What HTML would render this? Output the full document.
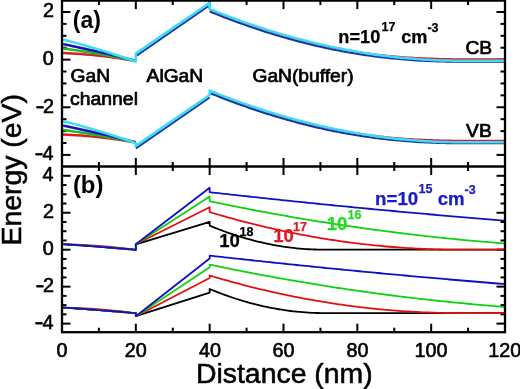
<!DOCTYPE html>
<html><head><meta charset="utf-8"><style>
html,body{margin:0;padding:0;background:#fff;}
svg{display:block;filter:blur(0.35px);}
</style></head><body>
<svg width="520" height="389" viewBox="0 0 520 389">
<rect width="520" height="389" fill="#fff"/>
<line x1="62.00" y1="154.91" x2="70.50" y2="154.91" stroke="#000" stroke-width="2.0"/>
<line x1="505.00" y1="154.91" x2="496.50" y2="154.91" stroke="#000" stroke-width="2.0"/>
<line x1="62.00" y1="143.00" x2="66.50" y2="143.00" stroke="#000" stroke-width="2.0"/>
<line x1="505.00" y1="143.00" x2="500.50" y2="143.00" stroke="#000" stroke-width="2.0"/>
<line x1="62.00" y1="131.09" x2="66.50" y2="131.09" stroke="#000" stroke-width="2.0"/>
<line x1="505.00" y1="131.09" x2="500.50" y2="131.09" stroke="#000" stroke-width="2.0"/>
<line x1="62.00" y1="119.18" x2="66.50" y2="119.18" stroke="#000" stroke-width="2.0"/>
<line x1="505.00" y1="119.18" x2="500.50" y2="119.18" stroke="#000" stroke-width="2.0"/>
<line x1="62.00" y1="107.27" x2="70.50" y2="107.27" stroke="#000" stroke-width="2.0"/>
<line x1="505.00" y1="107.27" x2="496.50" y2="107.27" stroke="#000" stroke-width="2.0"/>
<line x1="62.00" y1="95.36" x2="66.50" y2="95.36" stroke="#000" stroke-width="2.0"/>
<line x1="505.00" y1="95.36" x2="500.50" y2="95.36" stroke="#000" stroke-width="2.0"/>
<line x1="62.00" y1="83.45" x2="66.50" y2="83.45" stroke="#000" stroke-width="2.0"/>
<line x1="505.00" y1="83.45" x2="500.50" y2="83.45" stroke="#000" stroke-width="2.0"/>
<line x1="62.00" y1="71.54" x2="66.50" y2="71.54" stroke="#000" stroke-width="2.0"/>
<line x1="505.00" y1="71.54" x2="500.50" y2="71.54" stroke="#000" stroke-width="2.0"/>
<line x1="62.00" y1="59.63" x2="70.50" y2="59.63" stroke="#000" stroke-width="2.0"/>
<line x1="505.00" y1="59.63" x2="496.50" y2="59.63" stroke="#000" stroke-width="2.0"/>
<line x1="62.00" y1="47.72" x2="66.50" y2="47.72" stroke="#000" stroke-width="2.0"/>
<line x1="505.00" y1="47.72" x2="500.50" y2="47.72" stroke="#000" stroke-width="2.0"/>
<line x1="62.00" y1="35.81" x2="66.50" y2="35.81" stroke="#000" stroke-width="2.0"/>
<line x1="505.00" y1="35.81" x2="500.50" y2="35.81" stroke="#000" stroke-width="2.0"/>
<line x1="62.00" y1="23.90" x2="66.50" y2="23.90" stroke="#000" stroke-width="2.0"/>
<line x1="505.00" y1="23.90" x2="500.50" y2="23.90" stroke="#000" stroke-width="2.0"/>
<line x1="62.00" y1="11.99" x2="70.50" y2="11.99" stroke="#000" stroke-width="2.0"/>
<line x1="505.00" y1="11.99" x2="496.50" y2="11.99" stroke="#000" stroke-width="2.0"/>
<line x1="62.00" y1="323.60" x2="70.50" y2="323.60" stroke="#000" stroke-width="2.0"/>
<line x1="505.00" y1="323.60" x2="496.50" y2="323.60" stroke="#000" stroke-width="2.0"/>
<line x1="62.00" y1="314.36" x2="66.50" y2="314.36" stroke="#000" stroke-width="2.0"/>
<line x1="505.00" y1="314.36" x2="500.50" y2="314.36" stroke="#000" stroke-width="2.0"/>
<line x1="62.00" y1="305.12" x2="66.50" y2="305.12" stroke="#000" stroke-width="2.0"/>
<line x1="505.00" y1="305.12" x2="500.50" y2="305.12" stroke="#000" stroke-width="2.0"/>
<line x1="62.00" y1="295.89" x2="66.50" y2="295.89" stroke="#000" stroke-width="2.0"/>
<line x1="505.00" y1="295.89" x2="500.50" y2="295.89" stroke="#000" stroke-width="2.0"/>
<line x1="62.00" y1="286.65" x2="70.50" y2="286.65" stroke="#000" stroke-width="2.0"/>
<line x1="505.00" y1="286.65" x2="496.50" y2="286.65" stroke="#000" stroke-width="2.0"/>
<line x1="62.00" y1="277.41" x2="66.50" y2="277.41" stroke="#000" stroke-width="2.0"/>
<line x1="505.00" y1="277.41" x2="500.50" y2="277.41" stroke="#000" stroke-width="2.0"/>
<line x1="62.00" y1="268.18" x2="66.50" y2="268.18" stroke="#000" stroke-width="2.0"/>
<line x1="505.00" y1="268.18" x2="500.50" y2="268.18" stroke="#000" stroke-width="2.0"/>
<line x1="62.00" y1="258.94" x2="66.50" y2="258.94" stroke="#000" stroke-width="2.0"/>
<line x1="505.00" y1="258.94" x2="500.50" y2="258.94" stroke="#000" stroke-width="2.0"/>
<line x1="62.00" y1="249.70" x2="70.50" y2="249.70" stroke="#000" stroke-width="2.0"/>
<line x1="505.00" y1="249.70" x2="496.50" y2="249.70" stroke="#000" stroke-width="2.0"/>
<line x1="62.00" y1="240.46" x2="66.50" y2="240.46" stroke="#000" stroke-width="2.0"/>
<line x1="505.00" y1="240.46" x2="500.50" y2="240.46" stroke="#000" stroke-width="2.0"/>
<line x1="62.00" y1="231.22" x2="66.50" y2="231.22" stroke="#000" stroke-width="2.0"/>
<line x1="505.00" y1="231.22" x2="500.50" y2="231.22" stroke="#000" stroke-width="2.0"/>
<line x1="62.00" y1="221.99" x2="66.50" y2="221.99" stroke="#000" stroke-width="2.0"/>
<line x1="505.00" y1="221.99" x2="500.50" y2="221.99" stroke="#000" stroke-width="2.0"/>
<line x1="62.00" y1="212.75" x2="70.50" y2="212.75" stroke="#000" stroke-width="2.0"/>
<line x1="505.00" y1="212.75" x2="496.50" y2="212.75" stroke="#000" stroke-width="2.0"/>
<line x1="62.00" y1="203.51" x2="66.50" y2="203.51" stroke="#000" stroke-width="2.0"/>
<line x1="505.00" y1="203.51" x2="500.50" y2="203.51" stroke="#000" stroke-width="2.0"/>
<line x1="62.00" y1="194.27" x2="66.50" y2="194.27" stroke="#000" stroke-width="2.0"/>
<line x1="505.00" y1="194.27" x2="500.50" y2="194.27" stroke="#000" stroke-width="2.0"/>
<line x1="62.00" y1="185.04" x2="66.50" y2="185.04" stroke="#000" stroke-width="2.0"/>
<line x1="505.00" y1="185.04" x2="500.50" y2="185.04" stroke="#000" stroke-width="2.0"/>
<line x1="62.00" y1="175.80" x2="70.50" y2="175.80" stroke="#000" stroke-width="2.0"/>
<line x1="505.00" y1="175.80" x2="496.50" y2="175.80" stroke="#000" stroke-width="2.0"/>
<line x1="62.00" y1="332.20" x2="62.00" y2="323.70" stroke="#000" stroke-width="2.0"/>
<line x1="62.00" y1="166.50" x2="62.00" y2="158.00" stroke="#000" stroke-width="2.0"/>
<line x1="62.00" y1="166.50" x2="62.00" y2="175.00" stroke="#000" stroke-width="2.0"/>
<line x1="62.00" y1="0.60" x2="62.00" y2="9.10" stroke="#000" stroke-width="2.0"/>
<line x1="98.92" y1="332.20" x2="98.92" y2="327.70" stroke="#000" stroke-width="2.0"/>
<line x1="98.92" y1="166.50" x2="98.92" y2="162.00" stroke="#000" stroke-width="2.0"/>
<line x1="98.92" y1="166.50" x2="98.92" y2="171.00" stroke="#000" stroke-width="2.0"/>
<line x1="98.92" y1="0.60" x2="98.92" y2="5.10" stroke="#000" stroke-width="2.0"/>
<line x1="135.83" y1="332.20" x2="135.83" y2="323.70" stroke="#000" stroke-width="2.0"/>
<line x1="135.83" y1="166.50" x2="135.83" y2="158.00" stroke="#000" stroke-width="2.0"/>
<line x1="135.83" y1="166.50" x2="135.83" y2="175.00" stroke="#000" stroke-width="2.0"/>
<line x1="135.83" y1="0.60" x2="135.83" y2="9.10" stroke="#000" stroke-width="2.0"/>
<line x1="172.75" y1="332.20" x2="172.75" y2="327.70" stroke="#000" stroke-width="2.0"/>
<line x1="172.75" y1="166.50" x2="172.75" y2="162.00" stroke="#000" stroke-width="2.0"/>
<line x1="172.75" y1="166.50" x2="172.75" y2="171.00" stroke="#000" stroke-width="2.0"/>
<line x1="172.75" y1="0.60" x2="172.75" y2="5.10" stroke="#000" stroke-width="2.0"/>
<line x1="209.67" y1="332.20" x2="209.67" y2="323.70" stroke="#000" stroke-width="2.0"/>
<line x1="209.67" y1="166.50" x2="209.67" y2="158.00" stroke="#000" stroke-width="2.0"/>
<line x1="209.67" y1="166.50" x2="209.67" y2="175.00" stroke="#000" stroke-width="2.0"/>
<line x1="209.67" y1="0.60" x2="209.67" y2="9.10" stroke="#000" stroke-width="2.0"/>
<line x1="246.58" y1="332.20" x2="246.58" y2="327.70" stroke="#000" stroke-width="2.0"/>
<line x1="246.58" y1="166.50" x2="246.58" y2="162.00" stroke="#000" stroke-width="2.0"/>
<line x1="246.58" y1="166.50" x2="246.58" y2="171.00" stroke="#000" stroke-width="2.0"/>
<line x1="246.58" y1="0.60" x2="246.58" y2="5.10" stroke="#000" stroke-width="2.0"/>
<line x1="283.50" y1="332.20" x2="283.50" y2="323.70" stroke="#000" stroke-width="2.0"/>
<line x1="283.50" y1="166.50" x2="283.50" y2="158.00" stroke="#000" stroke-width="2.0"/>
<line x1="283.50" y1="166.50" x2="283.50" y2="175.00" stroke="#000" stroke-width="2.0"/>
<line x1="283.50" y1="0.60" x2="283.50" y2="9.10" stroke="#000" stroke-width="2.0"/>
<line x1="320.42" y1="332.20" x2="320.42" y2="327.70" stroke="#000" stroke-width="2.0"/>
<line x1="320.42" y1="166.50" x2="320.42" y2="162.00" stroke="#000" stroke-width="2.0"/>
<line x1="320.42" y1="166.50" x2="320.42" y2="171.00" stroke="#000" stroke-width="2.0"/>
<line x1="320.42" y1="0.60" x2="320.42" y2="5.10" stroke="#000" stroke-width="2.0"/>
<line x1="357.33" y1="332.20" x2="357.33" y2="323.70" stroke="#000" stroke-width="2.0"/>
<line x1="357.33" y1="166.50" x2="357.33" y2="158.00" stroke="#000" stroke-width="2.0"/>
<line x1="357.33" y1="166.50" x2="357.33" y2="175.00" stroke="#000" stroke-width="2.0"/>
<line x1="357.33" y1="0.60" x2="357.33" y2="9.10" stroke="#000" stroke-width="2.0"/>
<line x1="394.25" y1="332.20" x2="394.25" y2="327.70" stroke="#000" stroke-width="2.0"/>
<line x1="394.25" y1="166.50" x2="394.25" y2="162.00" stroke="#000" stroke-width="2.0"/>
<line x1="394.25" y1="166.50" x2="394.25" y2="171.00" stroke="#000" stroke-width="2.0"/>
<line x1="394.25" y1="0.60" x2="394.25" y2="5.10" stroke="#000" stroke-width="2.0"/>
<line x1="431.17" y1="332.20" x2="431.17" y2="323.70" stroke="#000" stroke-width="2.0"/>
<line x1="431.17" y1="166.50" x2="431.17" y2="158.00" stroke="#000" stroke-width="2.0"/>
<line x1="431.17" y1="166.50" x2="431.17" y2="175.00" stroke="#000" stroke-width="2.0"/>
<line x1="431.17" y1="0.60" x2="431.17" y2="9.10" stroke="#000" stroke-width="2.0"/>
<line x1="468.08" y1="332.20" x2="468.08" y2="327.70" stroke="#000" stroke-width="2.0"/>
<line x1="468.08" y1="166.50" x2="468.08" y2="162.00" stroke="#000" stroke-width="2.0"/>
<line x1="468.08" y1="166.50" x2="468.08" y2="171.00" stroke="#000" stroke-width="2.0"/>
<line x1="468.08" y1="0.60" x2="468.08" y2="5.10" stroke="#000" stroke-width="2.0"/>
<line x1="505.00" y1="332.20" x2="505.00" y2="323.70" stroke="#000" stroke-width="2.0"/>
<line x1="505.00" y1="166.50" x2="505.00" y2="158.00" stroke="#000" stroke-width="2.0"/>
<line x1="505.00" y1="166.50" x2="505.00" y2="175.00" stroke="#000" stroke-width="2.0"/>
<line x1="505.00" y1="0.60" x2="505.00" y2="9.10" stroke="#000" stroke-width="2.0"/>
<polyline points="63.00,244.20 67.55,244.50 72.10,244.81 76.66,245.12 81.21,245.44 85.76,245.77 90.31,246.10 94.86,246.44 99.42,246.79 103.97,247.14 108.52,247.50 113.07,247.87 117.62,248.24 122.18,248.62 126.73,249.01 131.28,249.40 135.83,249.80 135.83,244.30 209.67,221.80 209.67,225.60 212.67,226.84 215.67,228.05 218.67,229.22 221.67,230.37 224.67,231.48 227.67,232.55 230.67,233.60 233.67,234.61 236.67,235.59 239.67,236.53 242.67,237.45 245.67,238.33 248.67,239.17 251.67,239.99 254.67,240.77 257.67,241.52 260.67,242.24 263.67,242.92 266.67,243.57 269.67,244.19 272.67,244.77 275.67,245.32 278.67,245.84 281.67,246.33 284.67,246.78 287.67,247.21 290.67,247.59 293.67,247.95 296.67,248.27 299.67,248.56 302.67,248.82 305.67,249.04 308.67,249.23 311.67,249.39 314.67,249.52 317.67,249.61 320.67,249.67 323.67,249.70 326.67,249.70 329.67,249.70 332.67,249.70 335.67,249.70 338.67,249.70 341.67,249.70 344.67,249.70 347.67,249.70 350.67,249.70 353.67,249.70 356.67,249.70 359.67,249.70 362.67,249.70 365.67,249.70 368.67,249.70 371.67,249.70 374.67,249.70 377.67,249.70 380.67,249.70 383.67,249.70 386.67,249.70 389.67,249.70 392.67,249.70 395.67,249.70 398.67,249.70 401.67,249.70 404.67,249.70 407.67,249.70 410.67,249.70 413.67,249.70 416.67,249.70 419.67,249.70 422.67,249.70 425.67,249.70 428.67,249.70 431.67,249.70 434.67,249.70 437.67,249.70 440.67,249.70 443.67,249.70 446.67,249.70 449.67,249.70 452.67,249.70 455.67,249.70 458.67,249.70 461.67,249.70 464.67,249.70 467.67,249.70 470.67,249.70 473.67,249.70 476.67,249.70 479.67,249.70 482.67,249.70 485.67,249.70 488.67,249.70 491.67,249.70 494.67,249.70 497.67,249.70 500.67,249.70 503.67,249.70 505.00,249.70" fill="none" stroke="#000000" stroke-width="1.8" stroke-linejoin="round" />
<polyline points="63.00,307.60 67.55,307.90 72.10,308.21 76.66,308.52 81.21,308.84 85.76,309.17 90.31,309.50 94.86,309.84 99.42,310.19 103.97,310.54 108.52,310.90 113.07,311.27 117.62,311.64 122.18,312.02 126.73,312.41 131.28,312.80 135.83,313.20 135.83,316.20 209.67,292.60 209.67,289.00 212.67,290.24 215.67,291.45 218.67,292.62 221.67,293.77 224.67,294.88 227.67,295.95 230.67,297.00 233.67,298.01 236.67,298.99 239.67,299.93 242.67,300.85 245.67,301.73 248.67,302.57 251.67,303.39 254.67,304.17 257.67,304.92 260.67,305.64 263.67,306.32 266.67,306.97 269.67,307.59 272.67,308.17 275.67,308.72 278.67,309.24 281.67,309.73 284.67,310.18 287.67,310.61 290.67,310.99 293.67,311.35 296.67,311.67 299.67,311.96 302.67,312.22 305.67,312.44 308.67,312.63 311.67,312.79 314.67,312.92 317.67,313.01 320.67,313.07 323.67,313.10 326.67,313.10 329.67,313.10 332.67,313.10 335.67,313.10 338.67,313.10 341.67,313.10 344.67,313.10 347.67,313.10 350.67,313.10 353.67,313.10 356.67,313.10 359.67,313.10 362.67,313.10 365.67,313.10 368.67,313.10 371.67,313.10 374.67,313.10 377.67,313.10 380.67,313.10 383.67,313.10 386.67,313.10 389.67,313.10 392.67,313.10 395.67,313.10 398.67,313.10 401.67,313.10 404.67,313.10 407.67,313.10 410.67,313.10 413.67,313.10 416.67,313.10 419.67,313.10 422.67,313.10 425.67,313.10 428.67,313.10 431.67,313.10 434.67,313.10 437.67,313.10 440.67,313.10 443.67,313.10 446.67,313.10 449.67,313.10 452.67,313.10 455.67,313.10 458.67,313.10 461.67,313.10 464.67,313.10 467.67,313.10 470.67,313.10 473.67,313.10 476.67,313.10 479.67,313.10 482.67,313.10 485.67,313.10 488.67,313.10 491.67,313.10 494.67,313.10 497.67,313.10 500.67,313.10 503.67,313.10 505.00,313.10" fill="none" stroke="#000000" stroke-width="1.8" stroke-linejoin="round" />
<polyline points="63.00,244.20 67.55,244.30 72.10,244.44 76.66,244.61 81.21,244.81 85.76,245.05 90.31,245.32 94.86,245.62 99.42,245.95 103.97,246.32 108.52,246.72 113.07,247.15 117.62,247.61 122.18,248.11 126.73,248.64 131.28,249.20 135.83,249.80 135.83,244.30 209.67,207.20 209.67,212.10 212.67,213.00 215.67,213.88 218.67,214.76 221.67,215.62 224.67,216.48 227.67,217.32 230.67,218.15 233.67,218.97 236.67,219.78 239.67,220.58 242.67,221.37 245.67,222.15 248.67,222.92 251.67,223.67 254.67,224.42 257.67,225.15 260.67,225.88 263.67,226.59 266.67,227.29 269.67,227.98 272.67,228.66 275.67,229.33 278.67,229.99 281.67,230.64 284.67,231.28 287.67,231.90 290.67,232.52 293.67,233.12 296.67,233.72 299.67,234.30 302.67,234.87 305.67,235.43 308.67,235.98 311.67,236.52 314.67,237.05 317.67,237.57 320.67,238.08 323.67,238.57 326.67,239.06 329.67,239.53 332.67,240.00 335.67,240.45 338.67,240.89 341.67,241.32 344.67,241.74 347.67,242.15 350.67,242.55 353.67,242.94 356.67,243.32 359.67,243.68 362.67,244.04 365.67,244.38 368.67,244.72 371.67,245.04 374.67,245.35 377.67,245.65 380.67,245.95 383.67,246.23 386.67,246.49 389.67,246.75 392.67,247.00 395.67,247.24 398.67,247.46 401.67,247.68 404.67,247.88 407.67,248.07 410.67,248.26 413.67,248.43 416.67,248.59 419.67,248.74 422.67,248.88 425.67,249.00 428.67,249.12 431.67,249.23 434.67,249.32 437.67,249.41 440.67,249.48 443.67,249.55 446.67,249.60 449.67,249.64 452.67,249.67 455.67,249.69 458.67,249.70 461.67,249.70 464.67,249.70 467.67,249.70 470.67,249.70 473.67,249.70 476.67,249.70 479.67,249.70 482.67,249.70 485.67,249.70 488.67,249.70 491.67,249.70 494.67,249.70 497.67,249.70 500.67,249.70 503.67,249.70 505.00,249.70" fill="none" stroke="#e01010" stroke-width="1.8" stroke-linejoin="round" />
<polyline points="63.00,307.60 67.55,307.70 72.10,307.84 76.66,308.01 81.21,308.21 85.76,308.45 90.31,308.72 94.86,309.02 99.42,309.35 103.97,309.72 108.52,310.12 113.07,310.55 117.62,311.01 122.18,311.51 126.73,312.04 131.28,312.60 135.83,313.20 135.83,316.20 209.67,278.00 209.67,275.50 212.67,276.40 215.67,277.28 218.67,278.16 221.67,279.02 224.67,279.88 227.67,280.72 230.67,281.55 233.67,282.37 236.67,283.18 239.67,283.98 242.67,284.77 245.67,285.55 248.67,286.32 251.67,287.07 254.67,287.82 257.67,288.55 260.67,289.28 263.67,289.99 266.67,290.69 269.67,291.38 272.67,292.06 275.67,292.73 278.67,293.39 281.67,294.04 284.67,294.68 287.67,295.30 290.67,295.92 293.67,296.52 296.67,297.12 299.67,297.70 302.67,298.27 305.67,298.83 308.67,299.38 311.67,299.92 314.67,300.45 317.67,300.97 320.67,301.48 323.67,301.97 326.67,302.46 329.67,302.93 332.67,303.40 335.67,303.85 338.67,304.29 341.67,304.72 344.67,305.14 347.67,305.55 350.67,305.95 353.67,306.34 356.67,306.72 359.67,307.08 362.67,307.44 365.67,307.78 368.67,308.12 371.67,308.44 374.67,308.75 377.67,309.05 380.67,309.35 383.67,309.63 386.67,309.89 389.67,310.15 392.67,310.40 395.67,310.64 398.67,310.86 401.67,311.08 404.67,311.28 407.67,311.47 410.67,311.66 413.67,311.83 416.67,311.99 419.67,312.14 422.67,312.28 425.67,312.40 428.67,312.52 431.67,312.63 434.67,312.72 437.67,312.81 440.67,312.88 443.67,312.95 446.67,313.00 449.67,313.04 452.67,313.07 455.67,313.09 458.67,313.10 461.67,313.10 464.67,313.10 467.67,313.10 470.67,313.10 473.67,313.10 476.67,313.10 479.67,313.10 482.67,313.10 485.67,313.10 488.67,313.10 491.67,313.10 494.67,313.10 497.67,313.10 500.67,313.10 503.67,313.10 505.00,313.10" fill="none" stroke="#e01010" stroke-width="1.8" stroke-linejoin="round" />
<polyline points="63.00,244.20 67.55,244.50 72.10,244.81 76.66,245.12 81.21,245.44 85.76,245.77 90.31,246.10 94.86,246.44 99.42,246.79 103.97,247.14 108.52,247.50 113.07,247.87 117.62,248.24 122.18,248.62 126.73,249.01 131.28,249.40 135.83,249.80 135.83,244.30 209.67,196.50 209.67,201.20 212.67,201.83 215.67,202.46 218.67,203.08 221.67,203.70 224.67,204.31 227.67,204.92 230.67,205.53 233.67,206.13 236.67,206.73 239.67,207.32 242.67,207.91 245.67,208.49 248.67,209.08 251.67,209.65 254.67,210.22 257.67,210.79 260.67,211.36 263.67,211.92 266.67,212.47 269.67,213.03 272.67,213.58 275.67,214.12 278.67,214.66 281.67,215.19 284.67,215.73 287.67,216.25 290.67,216.78 293.67,217.30 296.67,217.81 299.67,218.32 302.67,218.83 305.67,219.33 308.67,219.83 311.67,220.32 314.67,220.81 317.67,221.30 320.67,221.78 323.67,222.26 326.67,222.73 329.67,223.20 332.67,223.67 335.67,224.13 338.67,224.59 341.67,225.04 344.67,225.49 347.67,225.93 350.67,226.38 353.67,226.81 356.67,227.24 359.67,227.67 362.67,228.10 365.67,228.52 368.67,228.93 371.67,229.35 374.67,229.75 377.67,230.16 380.67,230.56 383.67,230.95 386.67,231.34 389.67,231.73 392.67,232.11 395.67,232.49 398.67,232.87 401.67,233.24 404.67,233.60 407.67,233.97 410.67,234.32 413.67,234.68 416.67,235.03 419.67,235.37 422.67,235.72 425.67,236.05 428.67,236.39 431.67,236.72 434.67,237.04 437.67,237.36 440.67,237.68 443.67,237.99 446.67,238.30 449.67,238.61 452.67,238.91 455.67,239.20 458.67,239.50 461.67,239.78 464.67,240.07 467.67,240.35 470.67,240.62 473.67,240.89 476.67,241.16 479.67,241.43 482.67,241.68 485.67,241.94 488.67,242.19 491.67,242.44 494.67,242.68 497.67,242.92 500.67,243.15 503.67,243.38 505.00,243.49" fill="none" stroke="#10d010" stroke-width="1.8" stroke-linejoin="round" />
<polyline points="63.00,307.60 67.55,307.90 72.10,308.21 76.66,308.52 81.21,308.84 85.76,309.17 90.31,309.50 94.86,309.84 99.42,310.19 103.97,310.54 108.52,310.90 113.07,311.27 117.62,311.64 122.18,312.02 126.73,312.41 131.28,312.80 135.83,313.20 135.83,316.20 209.67,267.30 209.67,264.60 212.67,265.23 215.67,265.86 218.67,266.48 221.67,267.10 224.67,267.71 227.67,268.32 230.67,268.93 233.67,269.53 236.67,270.13 239.67,270.72 242.67,271.31 245.67,271.89 248.67,272.48 251.67,273.05 254.67,273.62 257.67,274.19 260.67,274.76 263.67,275.32 266.67,275.87 269.67,276.43 272.67,276.98 275.67,277.52 278.67,278.06 281.67,278.59 284.67,279.13 287.67,279.65 290.67,280.18 293.67,280.70 296.67,281.21 299.67,281.72 302.67,282.23 305.67,282.73 308.67,283.23 311.67,283.72 314.67,284.21 317.67,284.70 320.67,285.18 323.67,285.66 326.67,286.13 329.67,286.60 332.67,287.07 335.67,287.53 338.67,287.99 341.67,288.44 344.67,288.89 347.67,289.33 350.67,289.78 353.67,290.21 356.67,290.64 359.67,291.07 362.67,291.50 365.67,291.92 368.67,292.33 371.67,292.75 374.67,293.15 377.67,293.56 380.67,293.96 383.67,294.35 386.67,294.74 389.67,295.13 392.67,295.51 395.67,295.89 398.67,296.27 401.67,296.64 404.67,297.00 407.67,297.37 410.67,297.72 413.67,298.08 416.67,298.43 419.67,298.77 422.67,299.12 425.67,299.45 428.67,299.79 431.67,300.12 434.67,300.44 437.67,300.76 440.67,301.08 443.67,301.39 446.67,301.70 449.67,302.01 452.67,302.31 455.67,302.60 458.67,302.90 461.67,303.18 464.67,303.47 467.67,303.75 470.67,304.02 473.67,304.29 476.67,304.56 479.67,304.83 482.67,305.08 485.67,305.34 488.67,305.59 491.67,305.84 494.67,306.08 497.67,306.32 500.67,306.55 503.67,306.78 505.00,306.89" fill="none" stroke="#10d010" stroke-width="1.8" stroke-linejoin="round" />
<polyline points="63.00,244.20 67.55,244.50 72.10,244.81 76.66,245.12 81.21,245.44 85.76,245.77 90.31,246.10 94.86,246.44 99.42,246.79 103.97,247.14 108.52,247.50 113.07,247.87 117.62,248.24 122.18,248.62 126.73,249.01 131.28,249.40 135.83,249.80 135.83,244.30 209.67,187.70 209.67,192.20 212.67,192.54 215.67,192.87 218.67,193.21 221.67,193.54 224.67,193.88 227.67,194.21 230.67,194.54 233.67,194.87 236.67,195.20 239.67,195.53 242.67,195.86 245.67,196.19 248.67,196.51 251.67,196.84 254.67,197.16 257.67,197.48 260.67,197.81 263.67,198.13 266.67,198.45 269.67,198.77 272.67,199.08 275.67,199.40 278.67,199.72 281.67,200.03 284.67,200.35 287.67,200.66 290.67,200.97 293.67,201.28 296.67,201.59 299.67,201.90 302.67,202.21 305.67,202.51 308.67,202.82 311.67,203.12 314.67,203.43 317.67,203.73 320.67,204.03 323.67,204.33 326.67,204.63 329.67,204.93 332.67,205.23 335.67,205.53 338.67,205.82 341.67,206.12 344.67,206.41 347.67,206.71 350.67,207.00 353.67,207.29 356.67,207.58 359.67,207.87 362.67,208.16 365.67,208.44 368.67,208.73 371.67,209.01 374.67,209.30 377.67,209.58 380.67,209.86 383.67,210.14 386.67,210.42 389.67,210.70 392.67,210.98 395.67,211.26 398.67,211.53 401.67,211.81 404.67,212.08 407.67,212.36 410.67,212.63 413.67,212.90 416.67,213.17 419.67,213.44 422.67,213.71 425.67,213.97 428.67,214.24 431.67,214.51 434.67,214.77 437.67,215.03 440.67,215.30 443.67,215.56 446.67,215.82 449.67,216.08 452.67,216.33 455.67,216.59 458.67,216.85 461.67,217.10 464.67,217.36 467.67,217.61 470.67,217.86 473.67,218.11 476.67,218.36 479.67,218.61 482.67,218.86 485.67,219.11 488.67,219.35 491.67,219.60 494.67,219.84 497.67,220.09 500.67,220.33 503.67,220.57 505.00,220.68" fill="none" stroke="#1010c0" stroke-width="1.8" stroke-linejoin="round" />
<polyline points="63.00,307.60 67.55,307.90 72.10,308.21 76.66,308.52 81.21,308.84 85.76,309.17 90.31,309.50 94.86,309.84 99.42,310.19 103.97,310.54 108.52,310.90 113.07,311.27 117.62,311.64 122.18,312.02 126.73,312.41 131.28,312.80 135.83,313.20 135.83,316.20 209.67,258.50 209.67,255.60 212.67,255.94 215.67,256.27 218.67,256.61 221.67,256.94 224.67,257.28 227.67,257.61 230.67,257.94 233.67,258.27 236.67,258.60 239.67,258.93 242.67,259.26 245.67,259.59 248.67,259.91 251.67,260.24 254.67,260.56 257.67,260.88 260.67,261.21 263.67,261.53 266.67,261.85 269.67,262.17 272.67,262.48 275.67,262.80 278.67,263.12 281.67,263.43 284.67,263.75 287.67,264.06 290.67,264.37 293.67,264.68 296.67,264.99 299.67,265.30 302.67,265.61 305.67,265.91 308.67,266.22 311.67,266.52 314.67,266.83 317.67,267.13 320.67,267.43 323.67,267.73 326.67,268.03 329.67,268.33 332.67,268.63 335.67,268.93 338.67,269.22 341.67,269.52 344.67,269.81 347.67,270.11 350.67,270.40 353.67,270.69 356.67,270.98 359.67,271.27 362.67,271.56 365.67,271.84 368.67,272.13 371.67,272.41 374.67,272.70 377.67,272.98 380.67,273.26 383.67,273.54 386.67,273.82 389.67,274.10 392.67,274.38 395.67,274.66 398.67,274.93 401.67,275.21 404.67,275.48 407.67,275.76 410.67,276.03 413.67,276.30 416.67,276.57 419.67,276.84 422.67,277.11 425.67,277.37 428.67,277.64 431.67,277.91 434.67,278.17 437.67,278.43 440.67,278.70 443.67,278.96 446.67,279.22 449.67,279.48 452.67,279.73 455.67,279.99 458.67,280.25 461.67,280.50 464.67,280.76 467.67,281.01 470.67,281.26 473.67,281.51 476.67,281.76 479.67,282.01 482.67,282.26 485.67,282.51 488.67,282.75 491.67,283.00 494.67,283.24 497.67,283.49 500.67,283.73 503.67,283.97 505.00,284.08" fill="none" stroke="#1010c0" stroke-width="1.8" stroke-linejoin="round" />
<polyline points="209.67,9.80 212.67,11.02 215.67,12.23 218.67,13.42 221.67,14.60 224.67,15.76 227.67,16.91 230.67,18.04 233.67,19.16 236.67,20.26 239.67,21.35 242.67,22.42 245.67,23.48 248.67,24.53 251.67,25.56 254.67,26.57 257.67,27.57 260.67,28.56 263.67,29.53 266.67,30.49 269.67,31.43 272.67,32.35 275.67,33.27 278.67,34.16 281.67,35.04 284.67,35.91 287.67,36.76 290.67,37.60 293.67,38.43 296.67,39.23 299.67,40.03 302.67,40.81 305.67,41.57 308.67,42.32 311.67,43.06 314.67,43.78 317.67,44.48 320.67,45.17 323.67,45.85 326.67,46.51 329.67,47.16 332.67,47.74 335.67,48.30 338.67,48.84 341.67,49.37 344.67,49.89 347.67,50.39 350.67,50.87 353.67,51.35 356.67,51.80 359.67,52.24 362.67,52.67 365.67,53.08 368.67,53.48 371.67,53.86 374.67,54.23 377.67,54.59 380.67,54.92 383.67,55.25 386.67,55.56 389.67,55.85 392.67,56.13 395.67,56.40 398.67,56.65 401.67,56.88 404.67,57.10 407.67,57.31 410.67,57.50 413.67,57.68 416.67,57.84 419.67,57.99 422.67,58.12 425.67,58.24 428.67,58.34 431.67,58.46 434.67,58.59 437.67,58.70 440.67,58.80 443.67,58.89 446.67,58.96 449.67,59.02 452.67,59.06 455.67,59.09 458.67,59.10 461.67,59.10 464.67,59.10 467.67,59.10 470.67,59.10 473.67,59.10 476.67,59.10 479.67,59.10 482.67,59.10 485.67,59.10 488.67,59.10 491.67,59.10 494.67,59.10 497.67,59.10 500.67,59.10 503.67,59.10 505.00,59.10" fill="none" stroke="#d81e28" stroke-width="1.8" stroke-linejoin="round" />
<polyline points="209.67,91.30 212.67,92.52 215.67,93.73 218.67,94.92 221.67,96.10 224.67,97.26 227.67,98.41 230.67,99.54 233.67,100.66 236.67,101.76 239.67,102.85 242.67,103.92 245.67,104.98 248.67,106.03 251.67,107.06 254.67,108.07 257.67,109.07 260.67,110.06 263.67,111.03 266.67,111.99 269.67,112.93 272.67,113.85 275.67,114.77 278.67,115.66 281.67,116.54 284.67,117.41 287.67,118.26 290.67,119.10 293.67,119.93 296.67,120.73 299.67,121.53 302.67,122.31 305.67,123.07 308.67,123.82 311.67,124.56 314.67,125.28 317.67,125.98 320.67,126.67 323.67,127.35 326.67,128.01 329.67,128.66 332.67,129.24 335.67,129.80 338.67,130.34 341.67,130.87 344.67,131.39 347.67,131.89 350.67,132.37 353.67,132.85 356.67,133.30 359.67,133.74 362.67,134.17 365.67,134.58 368.67,134.98 371.67,135.36 374.67,135.73 377.67,136.09 380.67,136.42 383.67,136.75 386.67,137.06 389.67,137.35 392.67,137.63 395.67,137.90 398.67,138.15 401.67,138.38 404.67,138.60 407.67,138.81 410.67,139.00 413.67,139.18 416.67,139.34 419.67,139.49 422.67,139.62 425.67,139.74 428.67,139.84 431.67,139.96 434.67,140.09 437.67,140.20 440.67,140.30 443.67,140.39 446.67,140.46 449.67,140.52 452.67,140.56 455.67,140.59 458.67,140.60 461.67,140.60 464.67,140.60 467.67,140.60 470.67,140.60 473.67,140.60 476.67,140.60 479.67,140.60 482.67,140.60 485.67,140.60 488.67,140.60 491.67,140.60 494.67,140.60 497.67,140.60 500.67,140.60 503.67,140.60 505.00,140.60" fill="none" stroke="#d81e28" stroke-width="1.8" stroke-linejoin="round" />
<polyline points="135.83,56.10 209.67,5.20" fill="none" stroke="#1438a8" stroke-width="2.0" stroke-linejoin="round" />
<polyline points="209.67,11.50 212.67,12.72 215.67,13.93 218.67,15.12 221.67,16.30 224.67,17.46 227.67,18.61 230.67,19.74 233.67,20.86 236.67,21.96 239.67,23.05 242.67,24.12 245.67,25.18 248.67,26.23 251.67,27.26 254.67,28.27 257.67,29.27 260.67,30.26 263.67,31.23 266.67,32.19 269.67,33.13 272.67,34.05 275.67,34.97 278.67,35.86 281.67,36.74 284.67,37.61 287.67,38.46 290.67,39.30 293.67,40.13 296.67,40.93 299.67,41.73 302.67,42.51 305.67,43.27 308.67,44.02 311.67,44.76 314.67,45.48 317.67,46.18 320.67,46.87 323.67,47.55 326.67,48.21 329.67,48.86 332.67,49.47 335.67,50.06 338.67,50.64 341.67,51.20 344.67,51.75 347.67,52.28 350.67,52.80 353.67,53.30 356.67,53.79 359.67,54.27 362.67,54.72 365.67,55.17 368.67,55.60 371.67,56.02 374.67,56.42 377.67,56.80 380.67,57.17 383.67,57.53 386.67,57.87 389.67,58.20 392.67,58.51 395.67,58.81 398.67,59.09 401.67,59.36 404.67,59.61 407.67,59.85 410.67,60.07 413.67,60.28 416.67,60.48 419.67,60.66 422.67,60.82 425.67,60.97 428.67,61.11 431.67,61.23 434.67,61.33 437.67,61.42 440.67,61.50 443.67,61.59 446.67,61.66 449.67,61.72 452.67,61.76 455.67,61.79 458.67,61.80 461.67,61.80 464.67,61.80 467.67,61.80 470.67,61.80 473.67,61.80 476.67,61.80 479.67,61.80 482.67,61.80 485.67,61.80 488.67,61.80 491.67,61.80 494.67,61.80 497.67,61.80 500.67,61.80 503.67,61.80 505.00,61.80" fill="none" stroke="#1438a8" stroke-width="2.0" stroke-linejoin="round" />
<polyline points="135.83,148.40 209.67,97.50" fill="none" stroke="#1438a8" stroke-width="2.0" stroke-linejoin="round" />
<polyline points="209.67,93.00 212.67,94.22 215.67,95.43 218.67,96.62 221.67,97.80 224.67,98.96 227.67,100.11 230.67,101.24 233.67,102.36 236.67,103.46 239.67,104.55 242.67,105.62 245.67,106.68 248.67,107.73 251.67,108.76 254.67,109.77 257.67,110.77 260.67,111.76 263.67,112.73 266.67,113.69 269.67,114.63 272.67,115.55 275.67,116.47 278.67,117.36 281.67,118.24 284.67,119.11 287.67,119.96 290.67,120.80 293.67,121.63 296.67,122.43 299.67,123.23 302.67,124.01 305.67,124.77 308.67,125.52 311.67,126.26 314.67,126.98 317.67,127.68 320.67,128.37 323.67,129.05 326.67,129.71 329.67,130.36 332.67,130.97 335.67,131.56 338.67,132.14 341.67,132.70 344.67,133.25 347.67,133.78 350.67,134.30 353.67,134.80 356.67,135.29 359.67,135.77 362.67,136.22 365.67,136.67 368.67,137.10 371.67,137.52 374.67,137.92 377.67,138.30 380.67,138.67 383.67,139.03 386.67,139.37 389.67,139.70 392.67,140.01 395.67,140.31 398.67,140.59 401.67,140.86 404.67,141.11 407.67,141.35 410.67,141.57 413.67,141.78 416.67,141.98 419.67,142.16 422.67,142.32 425.67,142.47 428.67,142.61 431.67,142.73 434.67,142.83 437.67,142.92 440.67,143.00 443.67,143.09 446.67,143.16 449.67,143.22 452.67,143.26 455.67,143.29 458.67,143.30 461.67,143.30 464.67,143.30 467.67,143.30 470.67,143.30 473.67,143.30 476.67,143.30 479.67,143.30 482.67,143.30 485.67,143.30 488.67,143.30 491.67,143.30 494.67,143.30 497.67,143.30 500.67,143.30 503.67,143.30 505.00,143.30" fill="none" stroke="#1438a8" stroke-width="2.0" stroke-linejoin="round" />
<polyline points="63.00,53.00 67.55,53.22 72.10,53.48 76.66,53.77 81.21,54.10 85.76,54.47 90.31,54.88 94.86,55.32 99.42,55.80 103.97,56.32 108.52,56.88 113.07,57.47 117.62,58.10 122.18,58.77 126.73,59.48 131.28,60.22 135.83,61.00" fill="none" stroke="#d81e28" stroke-width="2.5" stroke-linejoin="round" />
<polyline points="63.00,134.50 67.55,134.72 72.10,134.97 76.66,135.27 81.21,135.60 85.76,135.97 90.31,136.38 94.86,136.82 99.42,137.30 103.97,137.82 108.52,138.38 113.07,138.97 117.62,139.60 122.18,140.27 126.73,140.97 131.28,141.72 135.83,142.50" fill="none" stroke="#d81e28" stroke-width="2.5" stroke-linejoin="round" />
<polyline points="63.00,48.40 67.55,49.04 72.10,49.70 76.66,50.38 81.21,51.08 85.76,51.80 90.31,52.53 94.86,53.29 99.42,54.07 103.97,54.87 108.52,55.68 113.07,56.52 117.62,57.38 122.18,58.25 126.73,59.15 131.28,60.06 135.83,61.00" fill="none" stroke="#1cbc1c" stroke-width="2.5" stroke-linejoin="round" />
<polyline points="63.00,129.90 67.55,130.54 72.10,131.20 76.66,131.88 81.21,132.58 85.76,133.30 90.31,134.03 94.86,134.79 99.42,135.57 103.97,136.37 108.52,137.18 113.07,138.02 117.62,138.88 122.18,139.75 126.73,140.65 131.28,141.56 135.83,142.50" fill="none" stroke="#1cbc1c" stroke-width="2.5" stroke-linejoin="round" />
<polyline points="63.00,44.10 67.55,45.05 72.10,46.00 76.66,46.98 81.21,47.96 85.76,48.96 90.31,49.97 94.86,51.00 99.42,52.03 103.97,53.08 108.52,54.15 113.07,55.22 117.62,56.31 122.18,57.41 126.73,58.53 131.28,59.66 135.83,60.80" fill="none" stroke="#1414b4" stroke-width="2.5" stroke-linejoin="round" />
<polyline points="63.00,125.60 67.55,126.55 72.10,127.50 76.66,128.48 81.21,129.46 85.76,130.46 90.31,131.47 94.86,132.50 99.42,133.53 103.97,134.58 108.52,135.65 113.07,136.72 117.62,137.81 122.18,138.91 126.73,140.03 131.28,141.16 135.83,142.30" fill="none" stroke="#1414b4" stroke-width="2.5" stroke-linejoin="round" />
<polyline points="63.00,39.50 67.55,40.69 72.10,41.90 76.66,43.14 81.21,44.40 85.76,45.69 90.31,47.01 94.86,48.35 99.42,49.72 103.97,51.12 108.52,52.54 113.07,53.98 117.62,55.45 122.18,56.95 126.73,58.47 131.28,60.02 135.83,61.60 135.83,53.60 209.67,2.70 209.67,9.00 212.67,10.22 215.67,11.43 218.67,12.62 221.67,13.80 224.67,14.96 227.67,16.11 230.67,17.24 233.67,18.36 236.67,19.46 239.67,20.55 242.67,21.62 245.67,22.68 248.67,23.73 251.67,24.76 254.67,25.77 257.67,26.77 260.67,27.76 263.67,28.73 266.67,29.69 269.67,30.63 272.67,31.55 275.67,32.47 278.67,33.36 281.67,34.24 284.67,35.11 287.67,35.96 290.67,36.80 293.67,37.63 296.67,38.43 299.67,39.23 302.67,40.01 305.67,40.77 308.67,41.52 311.67,42.26 314.67,42.98 317.67,43.68 320.67,44.37 323.67,45.05 326.67,45.71 329.67,46.36 332.67,47.00 335.67,47.63 338.67,48.25 341.67,48.85 344.67,49.43 347.67,50.00 350.67,50.56 353.67,51.10 356.67,51.63 359.67,52.14 362.67,52.64 365.67,53.12 368.67,53.59 371.67,54.05 374.67,54.48 377.67,54.91 380.67,55.32 383.67,55.71 386.67,56.09 389.67,56.46 392.67,56.81 395.67,57.14 398.67,57.46 401.67,57.77 404.67,58.06 407.67,58.34 410.67,58.60 413.67,58.85 416.67,59.08 419.67,59.30 422.67,59.50 425.67,59.69 428.67,59.86 431.67,60.02 434.67,60.16 437.67,60.29 440.67,60.40 443.67,60.49 446.67,60.56 449.67,60.62 452.67,60.66 455.67,60.69 458.67,60.70 461.67,60.70 464.67,60.70 467.67,60.70 470.67,60.70 473.67,60.70 476.67,60.70 479.67,60.70 482.67,60.70 485.67,60.70 488.67,60.70 491.67,60.70 494.67,60.70 497.67,60.70 500.67,60.70 503.67,60.70 505.00,60.70" fill="none" stroke="#40daf2" stroke-width="2.5" stroke-linejoin="round" />
<polyline points="63.00,121.00 67.55,122.19 72.10,123.40 76.66,124.64 81.21,125.90 85.76,127.19 90.31,128.51 94.86,129.85 99.42,131.22 103.97,132.62 108.52,134.04 113.07,135.48 117.62,136.95 122.18,138.45 126.73,139.97 131.28,141.52 135.83,143.10 135.83,145.90 209.67,95.00 209.67,90.50 212.67,91.72 215.67,92.93 218.67,94.12 221.67,95.30 224.67,96.46 227.67,97.61 230.67,98.74 233.67,99.86 236.67,100.96 239.67,102.05 242.67,103.12 245.67,104.18 248.67,105.23 251.67,106.26 254.67,107.27 257.67,108.27 260.67,109.26 263.67,110.23 266.67,111.19 269.67,112.13 272.67,113.05 275.67,113.97 278.67,114.86 281.67,115.74 284.67,116.61 287.67,117.46 290.67,118.30 293.67,119.13 296.67,119.93 299.67,120.73 302.67,121.51 305.67,122.27 308.67,123.02 311.67,123.76 314.67,124.48 317.67,125.18 320.67,125.87 323.67,126.55 326.67,127.21 329.67,127.86 332.67,128.50 335.67,129.13 338.67,129.75 341.67,130.35 344.67,130.93 347.67,131.50 350.67,132.06 353.67,132.60 356.67,133.13 359.67,133.64 362.67,134.14 365.67,134.62 368.67,135.09 371.67,135.55 374.67,135.98 377.67,136.41 380.67,136.82 383.67,137.21 386.67,137.59 389.67,137.96 392.67,138.31 395.67,138.64 398.67,138.96 401.67,139.27 404.67,139.56 407.67,139.84 410.67,140.10 413.67,140.35 416.67,140.58 419.67,140.80 422.67,141.00 425.67,141.19 428.67,141.36 431.67,141.52 434.67,141.66 437.67,141.79 440.67,141.90 443.67,141.99 446.67,142.06 449.67,142.12 452.67,142.16 455.67,142.19 458.67,142.20 461.67,142.20 464.67,142.20 467.67,142.20 470.67,142.20 473.67,142.20 476.67,142.20 479.67,142.20 482.67,142.20 485.67,142.20 488.67,142.20 491.67,142.20 494.67,142.20 497.67,142.20 500.67,142.20 503.67,142.20 505.00,142.20" fill="none" stroke="#40daf2" stroke-width="2.5" stroke-linejoin="round" />
<rect x="62.00" y="0.60" width="443.00" height="331.60" fill="none" stroke="#000" stroke-width="2.3"/>
<line x1="62.00" y1="166.50" x2="505.00" y2="166.50" stroke="#000" stroke-width="2.3"/>
<text transform="translate(42.89,17.44) scale(1.01,1.0)" font-size="19.6" font-weight="normal" fill="#000" stroke="#000" stroke-width="0.6" stroke-linejoin="round" font-family="'Liberation Sans', Arial, Helvetica, sans-serif">2</text>
<text transform="translate(42.66,65.08) scale(1.01,1.0)" font-size="19.6" font-weight="normal" fill="#000" stroke="#000" stroke-width="0.6" stroke-linejoin="round" font-family="'Liberation Sans', Arial, Helvetica, sans-serif">0</text>
<text transform="translate(42.89,112.72) scale(1.01,1.0)" font-size="19.6" font-weight="normal" fill="#000" stroke="#000" stroke-width="0.6" stroke-linejoin="round" font-family="'Liberation Sans', Arial, Helvetica, sans-serif">2</text>
<text transform="translate(35.83,112.72) scale(1.3,1.0)" font-size="19.6" font-weight="normal" fill="#000" stroke="#000" stroke-width="0.8999999999999999" stroke-linejoin="round" font-family="'Liberation Sans', Arial, Helvetica, sans-serif">-</text>
<text transform="translate(42.47,160.36) scale(1.01,1.0)" font-size="19.6" font-weight="normal" fill="#000" stroke="#000" stroke-width="0.6" stroke-linejoin="round" font-family="'Liberation Sans', Arial, Helvetica, sans-serif">4</text>
<text transform="translate(34.87,160.36) scale(1.3,1.0)" font-size="19.6" font-weight="normal" fill="#000" stroke="#000" stroke-width="0.8999999999999999" stroke-linejoin="round" font-family="'Liberation Sans', Arial, Helvetica, sans-serif">-</text>
<text transform="translate(42.47,181.25) scale(1.01,1.0)" font-size="19.6" font-weight="normal" fill="#000" stroke="#000" stroke-width="0.6" stroke-linejoin="round" font-family="'Liberation Sans', Arial, Helvetica, sans-serif">4</text>
<text transform="translate(42.89,218.20) scale(1.01,1.0)" font-size="19.6" font-weight="normal" fill="#000" stroke="#000" stroke-width="0.6" stroke-linejoin="round" font-family="'Liberation Sans', Arial, Helvetica, sans-serif">2</text>
<text transform="translate(42.66,255.15) scale(1.01,1.0)" font-size="19.6" font-weight="normal" fill="#000" stroke="#000" stroke-width="0.6" stroke-linejoin="round" font-family="'Liberation Sans', Arial, Helvetica, sans-serif">0</text>
<text transform="translate(42.89,292.10) scale(1.01,1.0)" font-size="19.6" font-weight="normal" fill="#000" stroke="#000" stroke-width="0.6" stroke-linejoin="round" font-family="'Liberation Sans', Arial, Helvetica, sans-serif">2</text>
<text transform="translate(35.83,292.10) scale(1.3,1.0)" font-size="19.6" font-weight="normal" fill="#000" stroke="#000" stroke-width="0.8999999999999999" stroke-linejoin="round" font-family="'Liberation Sans', Arial, Helvetica, sans-serif">-</text>
<text transform="translate(42.47,329.05) scale(1.01,1.0)" font-size="19.6" font-weight="normal" fill="#000" stroke="#000" stroke-width="0.6" stroke-linejoin="round" font-family="'Liberation Sans', Arial, Helvetica, sans-serif">4</text>
<text transform="translate(34.87,329.05) scale(1.3,1.0)" font-size="19.6" font-weight="normal" fill="#000" stroke="#000" stroke-width="0.8999999999999999" stroke-linejoin="round" font-family="'Liberation Sans', Arial, Helvetica, sans-serif">-</text>
<text transform="translate(56.60,356.50) scale(1.01,1.0)" font-size="19.6" font-weight="normal" fill="#000" stroke="#000" stroke-width="0.6" stroke-linejoin="round" font-family="'Liberation Sans', Arial, Helvetica, sans-serif">0</text>
<text transform="translate(124.81,356.50) scale(1.01,1.0)" font-size="19.6" font-weight="normal" fill="#000" stroke="#000" stroke-width="0.6" stroke-linejoin="round" font-family="'Liberation Sans', Arial, Helvetica, sans-serif">20</text>
<text transform="translate(198.92,356.50) scale(1.01,1.0)" font-size="19.6" font-weight="normal" fill="#000" stroke="#000" stroke-width="0.6" stroke-linejoin="round" font-family="'Liberation Sans', Arial, Helvetica, sans-serif">40</text>
<text transform="translate(272.47,356.50) scale(1.01,1.0)" font-size="19.6" font-weight="normal" fill="#000" stroke="#000" stroke-width="0.6" stroke-linejoin="round" font-family="'Liberation Sans', Arial, Helvetica, sans-serif">60</text>
<text transform="translate(346.38,356.50) scale(1.01,1.0)" font-size="19.6" font-weight="normal" fill="#000" stroke="#000" stroke-width="0.6" stroke-linejoin="round" font-family="'Liberation Sans', Arial, Helvetica, sans-serif">80</text>
<text transform="translate(414.38,356.50) scale(1.01,1.0)" font-size="19.6" font-weight="normal" fill="#000" stroke="#000" stroke-width="0.6" stroke-linejoin="round" font-family="'Liberation Sans', Arial, Helvetica, sans-serif">100</text>
<text transform="translate(488.22,356.50) scale(1.01,1.0)" font-size="19.6" font-weight="normal" fill="#000" stroke="#000" stroke-width="0.6" stroke-linejoin="round" font-family="'Liberation Sans', Arial, Helvetica, sans-serif">120</text>
<text transform="translate(195.97,383.20) scale(1.0,1.0)" font-size="28.4" font-weight="normal" fill="#000" stroke="#000" stroke-width="0.55" stroke-linejoin="round" font-family="'Liberation Sans', Arial, Helvetica, sans-serif">Distance (nm)</text>
<text transform="translate(21.2,245.53) rotate(-90)" font-size="28.4" fill="#000" stroke="#000" stroke-width="0.55" font-family="'Liberation Sans', Arial, Helvetica, sans-serif">Energy (eV)</text>
<text transform="translate(72.75,28.00) scale(1.0,1.0)" font-size="23" font-weight="bold" fill="#000" font-family="'Liberation Sans', Arial, Helvetica, sans-serif">(a)</text>
<text transform="translate(72.91,193.00) scale(1.04,1.0)" font-size="23" font-weight="bold" fill="#000" font-family="'Liberation Sans', Arial, Helvetica, sans-serif">(b)</text>
<text transform="translate(70.53,81.50) scale(1.04,1.0)" font-size="18.5" font-weight="normal" fill="#000" stroke="#000" stroke-width="0.7" stroke-linejoin="round" font-family="'Liberation Sans', Arial, Helvetica, sans-serif">GaN</text>
<text transform="translate(69.97,104.90) scale(1.05,1.0)" font-size="18.5" font-weight="normal" fill="#000" stroke="#000" stroke-width="0.7" stroke-linejoin="round" font-family="'Liberation Sans', Arial, Helvetica, sans-serif">channel</text>
<text transform="translate(146.56,81.50) scale(1.04,1.0)" font-size="18.5" font-weight="normal" fill="#000" stroke="#000" stroke-width="0.7" stroke-linejoin="round" font-family="'Liberation Sans', Arial, Helvetica, sans-serif">AlGaN</text>
<text transform="translate(252.43,81.50) scale(1.04,1.0)" font-size="18.5" font-weight="normal" fill="#000" stroke="#000" stroke-width="0.7" stroke-linejoin="round" font-family="'Liberation Sans', Arial, Helvetica, sans-serif">GaN(buffer)</text>
<text transform="translate(465.42,53.90) scale(1.04,1.0)" font-size="18.5" font-weight="normal" fill="#000" stroke="#000" stroke-width="0.7" stroke-linejoin="round" font-family="'Liberation Sans', Arial, Helvetica, sans-serif">CB</text>
<text transform="translate(466.12,136.60) scale(1.04,1.0)" font-size="18.5" font-weight="normal" fill="#000" stroke="#000" stroke-width="0.7" stroke-linejoin="round" font-family="'Liberation Sans', Arial, Helvetica, sans-serif">VB</text>
<text transform="translate(338.30,42.60) scale(1.0,1.0)" font-size="18.2" font-weight="bold" fill="#000" stroke="#000" stroke-width="0.25" stroke-linejoin="round" font-family="'Liberation Sans', Arial, Helvetica, sans-serif">n=10</text>
<text transform="translate(381.61,31.20) scale(1.0,1.0)" font-size="12.5" font-weight="bold" fill="#000" stroke="#000" stroke-width="0.25" stroke-linejoin="round" font-family="'Liberation Sans', Arial, Helvetica, sans-serif">17</text>
<text transform="translate(401.19,42.60) scale(1.0,1.0)" font-size="18.2" font-weight="bold" fill="#000" stroke="#000" stroke-width="0.25" stroke-linejoin="round" font-family="'Liberation Sans', Arial, Helvetica, sans-serif">cm</text>
<text transform="translate(427.41,31.50) scale(1.0,1.0)" font-size="12.5" font-weight="bold" fill="#000" stroke="#000" stroke-width="0.25" stroke-linejoin="round" font-family="'Liberation Sans', Arial, Helvetica, sans-serif">-3</text>
<text transform="translate(375.07,205.00) scale(1.0,1.0)" font-size="18.7" font-weight="bold" fill="#1a1ac8" stroke="#1a1ac8" stroke-width="0.25" stroke-linejoin="round" font-family="'Liberation Sans', Arial, Helvetica, sans-serif">n=10</text>
<text transform="translate(418.61,193.00) scale(1.0,1.0)" font-size="12.5" font-weight="bold" fill="#1a1ac8" stroke="#1a1ac8" stroke-width="0.25" stroke-linejoin="round" font-family="'Liberation Sans', Arial, Helvetica, sans-serif">15</text>
<text transform="translate(437.67,205.00) scale(1.0,1.0)" font-size="18.7" font-weight="bold" fill="#1a1ac8" stroke="#1a1ac8" stroke-width="0.25" stroke-linejoin="round" font-family="'Liberation Sans', Arial, Helvetica, sans-serif">cm</text>
<text transform="translate(464.51,193.70) scale(1.0,1.0)" font-size="12.5" font-weight="bold" fill="#1a1ac8" stroke="#1a1ac8" stroke-width="0.25" stroke-linejoin="round" font-family="'Liberation Sans', Arial, Helvetica, sans-serif">-3</text>
<text transform="translate(326.73,230.20) scale(1.0,1.0)" font-size="18.5" font-weight="bold" fill="#22dd22" stroke="#22dd22" stroke-width="0.25" stroke-linejoin="round" font-family="'Liberation Sans', Arial, Helvetica, sans-serif">10</text>
<text transform="translate(347.51,219.00) scale(1.0,1.0)" font-size="12.5" font-weight="bold" fill="#22dd22" stroke="#22dd22" stroke-width="0.25" stroke-linejoin="round" font-family="'Liberation Sans', Arial, Helvetica, sans-serif">16</text>
<text transform="translate(273.23,241.90) scale(1.0,1.0)" font-size="18.5" font-weight="bold" fill="#dd1a22" stroke="#dd1a22" stroke-width="0.25" stroke-linejoin="round" font-family="'Liberation Sans', Arial, Helvetica, sans-serif">10</text>
<text transform="translate(293.01,231.10) scale(1.0,1.0)" font-size="12.5" font-weight="bold" fill="#dd1a22" stroke="#dd1a22" stroke-width="0.25" stroke-linejoin="round" font-family="'Liberation Sans', Arial, Helvetica, sans-serif">17</text>
<text transform="translate(219.33,246.80) scale(1.0,1.0)" font-size="18.5" font-weight="bold" fill="#000" stroke="#000" stroke-width="0.25" stroke-linejoin="round" font-family="'Liberation Sans', Arial, Helvetica, sans-serif">10</text>
<text transform="translate(239.61,236.00) scale(1.0,1.0)" font-size="12.5" font-weight="bold" fill="#000" stroke="#000" stroke-width="0.25" stroke-linejoin="round" font-family="'Liberation Sans', Arial, Helvetica, sans-serif">18</text>
</svg>
</body></html>
